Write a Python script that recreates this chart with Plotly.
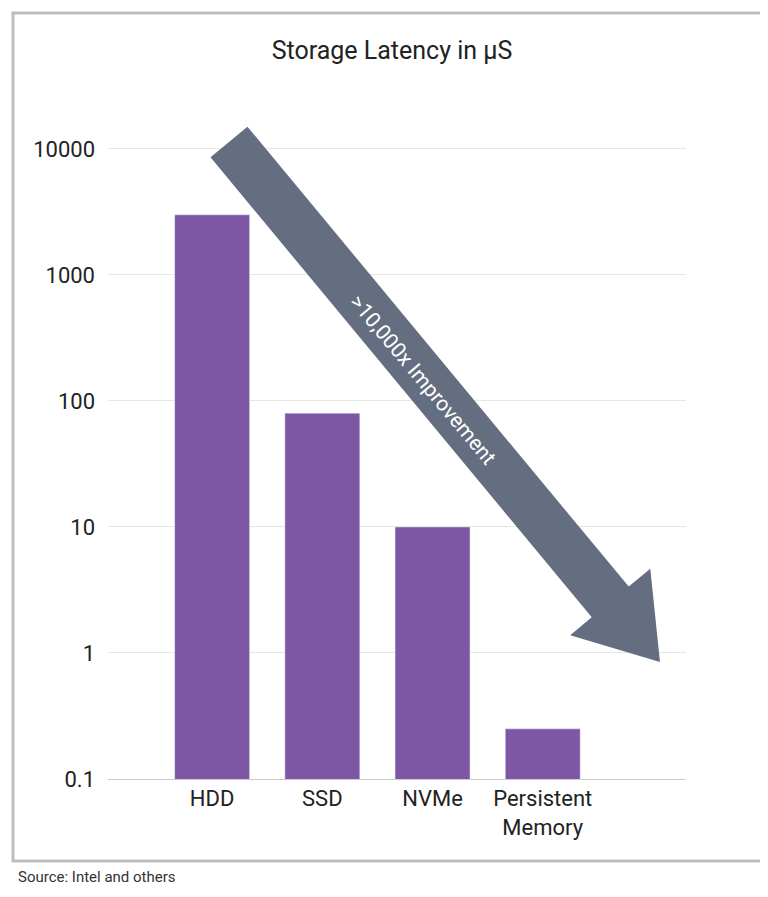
import numpy as np
import plotly.graph_objects as go

categories = ["HDD", "SSD", "NVMe", "Persistent<br>Memory"]
latency_us = [3000, 80, 10, 0.25]
tick_vals = [0.1, 1, 10, 100, 1000, 10000]
tick_text = ["0.1", "1", "10", "100", "1000", "10000"]

W, H = 768, 897
L, R, T, B = 100, 90, 100, 126
pw, ph = W - L - R, H - T - B


def to_paper(px, py):
    return (px - L) / pw, (H - B - py) / ph


positions = list(range(len(categories)))

fig = go.Figure()
fig.add_trace(go.Bar(x=positions, y=latency_us, marker_color="#7d56a4", width=0.68))

# big arrow drawn in pixel space, converted to paper coords
S = np.array([221.0, 134.0])
Tp = np.array([652.0, 654.0])
u = (Tp - S) / np.linalg.norm(Tp - S)
n = np.array([u[1], -u[0]])
hw, hh, hl = 24, 52, 78
base = Tp - u * hl
pts = [S + n * hw, base + n * hw, base + n * hh, Tp, base - n * hh, base - n * hw, S - n * hw]
path = "M " + " L ".join("%.4f,%.4f" % to_paper(*p) for p in pts) + " Z"
fig.add_shape(type="path", path=path, xref="paper", yref="paper",
              fillcolor="#646e80", line=dict(width=0), layer="above")

x0, y0 = to_paper(5, 5)
x1, y1 = to_paper(765, 853)
fig.add_shape(type="rect", xref="paper", yref="paper", x0=x0, y0=y1, x1=x1, y1=y0,
              line=dict(color="#bdbdbd", width=3))

tx, ty = to_paper(415, 372)
fig.add_annotation(x=tx, y=ty, xref="paper", yref="paper", text=">10,000x Improvement",
                   showarrow=False, textangle=50, font=dict(color="white", size=21))

sx, sy = to_paper(8, 880)
fig.add_annotation(x=sx, y=sy, xref="paper", yref="paper", text="Source: Intel and others",
                   showarrow=False, xanchor="left", font=dict(size=15, color="#333"))

fig.update_layout(
    width=W, height=H, margin=dict(l=L, r=R, t=T, b=B),
    title=dict(text="Storage Latency in µS", x=0.5, xanchor="center", y=1 - 42 / H,
               yanchor="middle", font=dict(size=25, color="#222")),
    plot_bgcolor="white", paper_bgcolor="white", showlegend=False,
    font=dict(family="Roboto", color="#222"),
)
fig.update_yaxes(type="log", range=[-1, 4.325], tickvals=tick_vals, ticktext=tick_text,
                 gridcolor="#e6e6e6", tickfont=dict(size=22), zeroline=False,
                 ticks="", ticklen=0, ticklabelstandoff=12)
fig.update_xaxes(range=[-0.945, 4.3], tickvals=positions, ticktext=categories,
                 tickfont=dict(size=22), showline=True, linecolor="#cccccc",
                 showgrid=False, zeroline=False)

fig.write_html("out.html")
